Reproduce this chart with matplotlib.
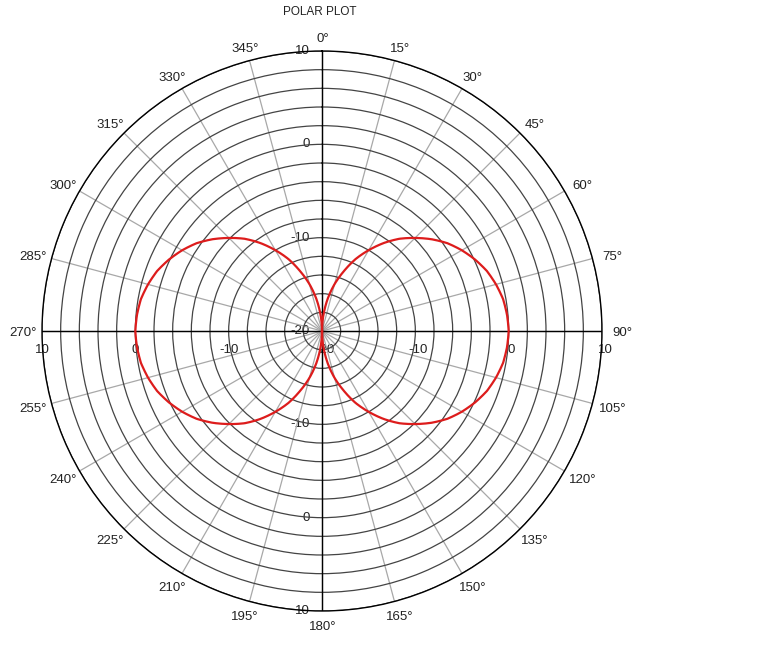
import numpy as np
import matplotlib.pyplot as plt

plt.rcParams['font.family'] = ['Liberation Sans', 'DejaVu Sans']

# ============================
# Data
# ============================
# one lobe, 0..180 deg in 5 deg steps (values in dB, centre = -20)
lobe_deg = list(range(0, 181, 5))
lobe_r = [-20.0, -18.3, -16.5, -14.8, -13.2, -11.5, -10.0, -8.5, -7.1, -5.9,
          -4.7, -3.6, -2.7, -1.9, -1.2, -0.7, -0.3, -0.1, 0.0,
          -0.1, -0.3, -0.7, -1.2, -1.9, -2.7, -3.6, -4.7, -5.9, -7.1,
          -8.5, -10.0, -11.5, -13.2, -14.8, -16.5, -18.3, -20.0]
# second lobe is the same shape on the other side
curve_deg = lobe_deg + [d + 180 for d in lobe_deg[1:]]
curve_r = lobe_r + lobe_r[1:]

ring_values = list(range(-18, 11, 2))
spoke_deg = list(range(0, 360, 15))
spoke_labels = [f"{d}\u00b0" for d in spoke_deg]
radial_labels = [10, 0, -10, -20]

r_min, r_max = -20, 10
txt_color = '#222222'

# ============================
# Figure
# ============================
fig = plt.figure(figsize=(7.68, 6.46), dpi=100)
ax = fig.add_axes([41 / 768, 1 - 611 / 646, 562 / 768, 560 / 646], projection='polar')
ax.set_theta_zero_location('N')
ax.set_theta_direction(-1)
ax.set_ylim(r_min, r_max)

ax.set_yticks(ring_values)
ax.set_yticklabels([])
ax.set_xticks(np.deg2rad(spoke_deg))
ax.set_xticklabels([])
ax.xaxis.grid(True, color='#a8a8a8', linewidth=0.9)
ax.yaxis.grid(True, color='#444444', linewidth=0.9)
ax.spines['polar'].set_color('black')
ax.spines['polar'].set_linewidth(1.0)

# angle labels, just outside the rim
for d, lab in zip(spoke_deg, spoke_labels):
    t = np.deg2rad(d)
    ax.annotate(lab, (t, r_max), textcoords='offset pixels',
                xytext=(20 * np.sin(t) + 0.5, 14 * np.cos(t) - 2),
                ha='center', va='center', fontsize=9.5, color=txt_color,
                annotation_clip=False)

# main axes through the centre
for d in (0, 90, 180, 270):
    ax.plot([np.deg2rad(d)] * 2, [r_min, r_max], color='black', linewidth=1.0, zorder=2)

# red pattern
line, = ax.plot(np.deg2rad(curve_deg), curve_r, color='#dd1c1c', linewidth=1.6, zorder=4)
line.get_path()._interpolation_steps = 20

# radial labels
for v in radial_labels:
    ax.annotate(str(v), (0, v), textcoords='offset pixels', xytext=(-12, 0),
                ha='right', va='center', fontsize=9.5, color=txt_color, zorder=1)
    ax.annotate(str(v), (np.pi / 2, v), textcoords='offset pixels', xytext=(3, -19),
                ha='center', va='center', fontsize=9.5, color=txt_color, zorder=1)
    if v != -20:
        ax.annotate(str(v), (np.pi, v), textcoords='offset pixels', xytext=(-12, 0),
                    ha='right', va='center', fontsize=9.5, color=txt_color, zorder=1)
        ax.annotate(str(v), (3 * np.pi / 2, v), textcoords='offset pixels', xytext=(0, -19),
                    ha='center', va='center', fontsize=9.5, color=txt_color, zorder=1)

fig.text(320 / 768, 1 - 12 / 646, 'POLAR PLOT', ha='center', va='center',
         fontsize=8.5, color=txt_color)

fig.savefig('out.png', dpi=100)
